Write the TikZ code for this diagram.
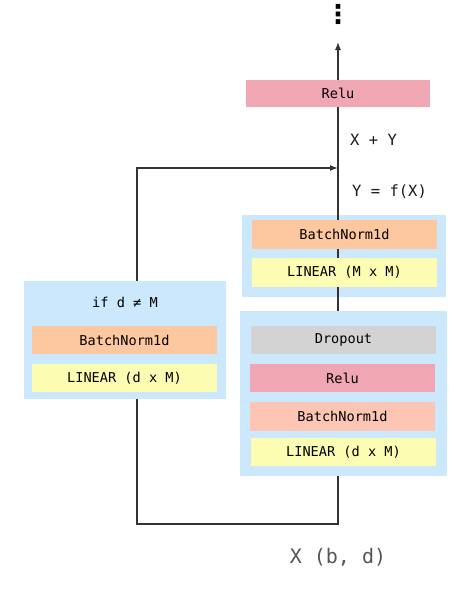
\documentclass[tikz,border=0pt]{standalone}
\usepackage{fontspec}
\setmainfont{DejaVu Sans Mono}
\setmonofont{DejaVu Sans Mono}
\newfontfamily\symfont{DejaVu Sans}
\usetikzlibrary{arrows.meta}
\definecolor{blockblue}{HTML}{CBE8FC}
\definecolor{bnorange}{HTML}{FDC79F}
\definecolor{relupink}{HTML}{F1A7B3}
\definecolor{dropgray}{HTML}{D4D3D4}
\definecolor{bnsalmon}{HTML}{FDC5B4}
\definecolor{linyellow}{HTML}{FCFDB2}
\definecolor{linecol}{HTML}{333333}
\definecolor{txtgray}{HTML}{555555}
\tikzset{
  blockbg/.style={fill=blockblue, draw=none, inner sep=0pt},
  layerbox/.style={draw=none, inner sep=0pt, minimum width=185pt, minimum height=28pt,
    font=\fontsize{13.6}{15}\selectfont, text=black},
  conn/.style={draw=linecol, line width=1.2pt},
  arr/.style={conn, -{Latex[length=8pt,width=6pt]}},
  lbl/.style={font=\fontsize{15.5}{17}\selectfont, text=black!90, anchor=west, inner sep=0pt},
}
\begin{document}
\begin{tikzpicture}[x=1pt,y=-1pt]
\useasboundingbox (0,0) rectangle (474,592);
% block backgrounds
\node[blockbg, minimum width=204pt, minimum height=82pt] (upblock) at (344,256) {};
\node[blockbg, minimum width=207pt, minimum height=165pt] (lowblock) at (343.5,393.5) {};
\node[blockbg, minimum width=202pt, minimum height=118pt] (leftblock) at (125,340) {};
% top relu
\node[layerbox, fill=relupink, minimum width=184pt, minimum height=27pt] (relutop) at (338,93.5) {Relu};
% coordinates
\coordinate (topend) at (338,42);
\coordinate (joint) at (338,168);
\coordinate (lcorner) at (137,168);
\coordinate (bl) at (137,524);
\coordinate (br) at (338,524);
% connectors
\draw[arr] (relutop.north -| topend) -- (topend);
\draw[conn] (lowblock.north -| joint) -- (relutop.south -| joint);
\draw[arr] (leftblock.north -| lcorner) -- (lcorner) -- (joint);
\draw[conn] (lowblock.south -| br) -- (br) -- (bl) -- (leftblock.south -| bl);
% dots
\node[inner sep=0pt, font=\symfont\bfseries\fontsize{26}{26}\selectfont] (dots) at (338,14) {⋮};
% upper block layers
\node[layerbox, fill=bnorange, minimum height=29pt] (bnup) at (344.5,234.5) {BatchNorm1d};
\node[layerbox, fill=linyellow, minimum height=29pt] (linup) at (344.5,272.5) {LINEAR (M x M)};
% lower block layers
\node[layerbox, fill=dropgray] (drop) at (343.5,340) {Dropout};
\node[layerbox, fill=relupink] (relulow) at (342.5,378) {Relu};
\node[layerbox, fill=bnsalmon, minimum height=29pt] (bnlow) at (342.5,416.5) {BatchNorm1d};
\node[layerbox, fill=linyellow] (linlow) at (343.5,452) {LINEAR (d x M)};
% left block layers
\node[inner sep=0pt, font=\fontsize{13.6}{15}\selectfont, text=black] (iftext) at (125,302) {if d ≠ M};
\node[layerbox, fill=bnorange] (bnleft) at (124.5,340) {BatchNorm1d};
\node[layerbox, fill=linyellow] (linleft) at (124.5,378) {LINEAR (d x M)};
% labels
\node[lbl] (sum) at (350,140) {X + Y};
\node[lbl] (fx) at (352,192) {Y = f(X)};
\node[inner sep=0pt, font=\fontsize{20}{22}\selectfont, text=txtgray] (input) at (338,557) {X (b, d)};
\end{tikzpicture}
\end{document}
